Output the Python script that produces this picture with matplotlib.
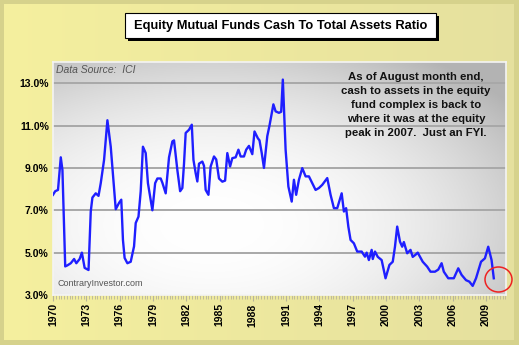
"""Equity mutual funds cash to total assets ratio, 1970-2009."""

import numpy as np
import matplotlib
matplotlib.use("Agg")
import matplotlib.pyplot as plt
from matplotlib.patches import Rectangle, Ellipse

plt.rcParams["font.family"] = ["Liberation Sans", "DejaVu Sans"]

# ── Data ────────────────────────────────────────────────────────────────────

YEARS = [
    1970.0, 1970.2, 1970.45, 1970.7, 1970.85, 1971.1, 1971.3, 1971.6, 1971.9,
    1972.1, 1972.4, 1972.6, 1972.85, 1973.2, 1973.4, 1973.55, 1973.85, 1974.1,
    1974.3, 1974.6, 1974.9, 1975.2, 1975.65, 1975.95, 1976.15, 1976.3, 1976.45,
    1976.7, 1977.0, 1977.3, 1977.45, 1977.7, 1977.9, 1978.1, 1978.35, 1978.55,
    1978.95, 1979.2, 1979.4, 1979.7, 1979.85, 1980.15, 1980.45, 1980.75, 1980.9,
    1981.2, 1981.45, 1981.65, 1981.8, 1981.95, 1982.25, 1982.5, 1982.65, 1982.85,
    1983.0, 1983.15, 1983.45, 1983.6, 1983.75, 1984.0, 1984.2, 1984.5, 1984.7,
    1984.95, 1985.25, 1985.5, 1985.7, 1985.95, 1986.15, 1986.45, 1986.7, 1986.9,
    1987.2, 1987.4, 1987.65, 1987.95, 1988.15, 1988.45, 1988.6, 1988.8, 1989.0,
    1989.3, 1989.5, 1989.85, 1990.05, 1990.35, 1990.55, 1990.7, 1990.95, 1991.2,
    1991.5, 1991.7, 1991.9, 1992.15, 1992.45, 1992.75, 1993.05, 1993.35, 1993.65,
    1993.95, 1994.25, 1994.7, 1995.0, 1995.3, 1995.6, 1996.0, 1996.2, 1996.4,
    1996.6, 1996.8, 1997.1, 1997.4, 1997.8, 1998.1, 1998.25, 1998.45, 1998.7,
    1998.8, 1999.0, 1999.25, 1999.6, 1999.95, 2000.3, 2000.6, 2000.8, 2001.0,
    2001.25, 2001.45, 2001.6, 2001.9, 2002.2, 2002.4, 2002.65, 2002.85, 2003.3,
    2003.7, 2004.0, 2004.4, 2004.7, 2005.0, 2005.2, 2005.6, 2006.1, 2006.5,
    2006.8, 2007.2, 2007.5, 2007.8, 2008.1, 2008.55, 2008.9, 2009.2, 2009.5,
    2009.7,
]

CASH_RATIO = [
    7.73, 7.9, 7.96, 9.5, 8.9, 4.35, 4.4, 4.5, 4.7,
    4.5, 4.7, 5.0, 4.28, 4.18, 6.94, 7.6, 7.8, 7.68,
    8.28, 9.38, 11.25, 10.0, 7.05, 7.35, 7.5, 5.6, 4.75,
    4.5, 4.57, 5.3, 6.4, 6.7, 7.9, 10.0, 9.7, 8.28,
    7.0, 8.28, 8.5, 8.5, 8.3, 7.8, 9.5, 10.25, 10.3,
    8.9, 7.9, 8.05, 9.2, 10.65, 10.8, 11.04, 9.38, 8.75,
    8.36, 9.2, 9.3, 9.1, 7.96, 7.73, 9.07, 9.54, 9.4,
    8.5, 8.35, 8.4, 9.7, 9.07, 9.46, 9.5, 9.86, 9.54,
    9.54, 9.86, 10.04, 9.65, 10.72, 10.4, 10.3, 9.7, 9.0,
    10.5, 11.0, 12.0, 11.67, 11.6, 11.65, 13.17, 9.86, 8.12,
    7.41, 8.44, 7.73, 8.44, 8.99, 8.6, 8.6, 8.28, 7.96,
    8.05, 8.2, 8.52, 7.73, 7.1, 7.1, 7.8, 6.94, 7.1,
    6.23, 5.6, 5.44, 5.05, 5.05, 4.81, 5.0, 4.65, 5.13,
    4.7, 5.05, 4.8, 4.65, 3.79, 4.42, 4.57, 5.28, 6.23,
    5.52, 5.28, 5.5, 4.97, 5.13, 4.8, 4.9, 5.0, 4.57,
    4.34, 4.1, 4.1, 4.2, 4.5, 4.1, 3.79, 3.79, 4.26,
    3.95, 3.7, 3.63, 3.43, 3.79, 4.57, 4.73, 5.28, 4.65,
    3.79,
]

YTICKS = [3, 5, 7, 9, 11, 13]
XTICKS = list(range(1970, 2010, 3))

TITLE = "Equity Mutual Funds Cash To Total Assets Ratio"
NOTE = ("As of August month end,\ncash to assets in the equity\n"
        "fund complex is back to\nwhere it was at the equity\n"
        "peak in 2007.  Just an FYI.")

W, H = 519, 345
LINE_BLUE = "#1f1fff"


def main():
    fig = plt.figure(figsize=(W / 100, H / 100), dpi=100)
    fig.patch.set_facecolor("#d6d28c")

    # yellow inner panel with a soft left-to-right fade
    bg = fig.add_axes([4 / W, 5 / H, 510 / W, 336 / H], zorder=-5)
    grad = np.linspace(0, 1, 256)[None, :]
    cols = np.array([[0.96, 0.94, 0.62]]) * (1 - grad[..., None]) + \
        np.array([[0.90, 0.88, 0.62]]) * grad[..., None]
    bg.imshow(cols, aspect="auto", extent=[0, 1, 0, 1])
    bg.set_axis_off()

    ax = fig.add_axes([53 / W, 1 - 295 / H, 453 / W, 233 / H])

    # grey-white shaded plot background
    gx, gy = np.meshgrid(np.linspace(0, 1, 200), np.linspace(0, 1, 200))
    d = np.sqrt(((gx - 0.35) / 0.75) ** 2 + ((gy - 0.3) / 0.8) ** 2)
    shade = 1 - 0.24 * np.clip(d, 0, 1.1) ** 2.2
    ax.imshow(np.dstack([shade] * 3), origin="lower", aspect="auto",
              extent=[0, 1, 0, 1], transform=ax.transAxes, zorder=0)

    for y in YTICKS[1:]:
        ax.axhline(y, color="#a8a8a8", linewidth=1.4, zorder=1)

    ax.plot(YEARS, CASH_RATIO, color=LINE_BLUE, linewidth=1.7, zorder=3)

    ax.set_xlim(1970, 2010.8)
    ax.set_ylim(3, 14)
    ax.set_yticks(YTICKS)
    ax.set_yticklabels([f"{v:.1f}%" for v in YTICKS], fontsize=7.5, fontweight="bold")
    ax.set_xticks(XTICKS)
    ax.set_xticklabels([str(x) for x in XTICKS], rotation=90, fontsize=7.5,
                       fontweight="bold")
    ax.set_xticks(np.arange(1970, 2010.8, 0.25), minor=True)
    ax.tick_params(axis="y", length=0, pad=3)
    ax.tick_params(axis="x", which="major", length=4, color="#b8b49a", pad=2)
    ax.tick_params(axis="x", which="minor", length=3, color="#b8b49a")
    for s in ax.spines.values():
        s.set_color("#f4f4f4")
        s.set_linewidth(1.2)

    ax.text(0.006, 0.985, "Data Source:  ICI", transform=ax.transAxes,
            fontsize=7.5, style="italic", color="#555555", ha="left", va="top")
    ax.text(0.01, 0.03, "ContraryInvestor.com", transform=ax.transAxes,
            fontsize=6.5, color="#555555", ha="left", va="bottom")
    fig.text(416 / W, 1 - 72 / H, NOTE, ha="center", va="top",
             fontsize=8.2, fontweight="bold", linespacing=1.5, color="#111111",
             zorder=6)

    # red circle around the latest reading
    circ = Ellipse((498.5 / W, 1 - 279.5 / H), 27 / W, 25 / H, transform=fig.transFigure,
                   fill=False, edgecolor="#ee2222", linewidth=1.1, zorder=5)
    fig.add_artist(circ)

    # title box with drop shadow
    fig.add_artist(Rectangle((128 / W, 1 - 41 / H), 311 / W, 25 / H,
                             transform=fig.transFigure, facecolor="black",
                             edgecolor="none"))
    fig.add_artist(Rectangle((125 / W, 1 - 38 / H), 311 / W, 25 / H,
                             transform=fig.transFigure, facecolor="white",
                             edgecolor="black", linewidth=0.8))
    fig.text(280.5 / W, 1 - 25.5 / H, TITLE, ha="center", va="center",
             fontsize=9.3, fontweight="bold")

    fig.savefig("out.png", dpi=100, facecolor=fig.get_facecolor())


if __name__ == "__main__":
    main()
